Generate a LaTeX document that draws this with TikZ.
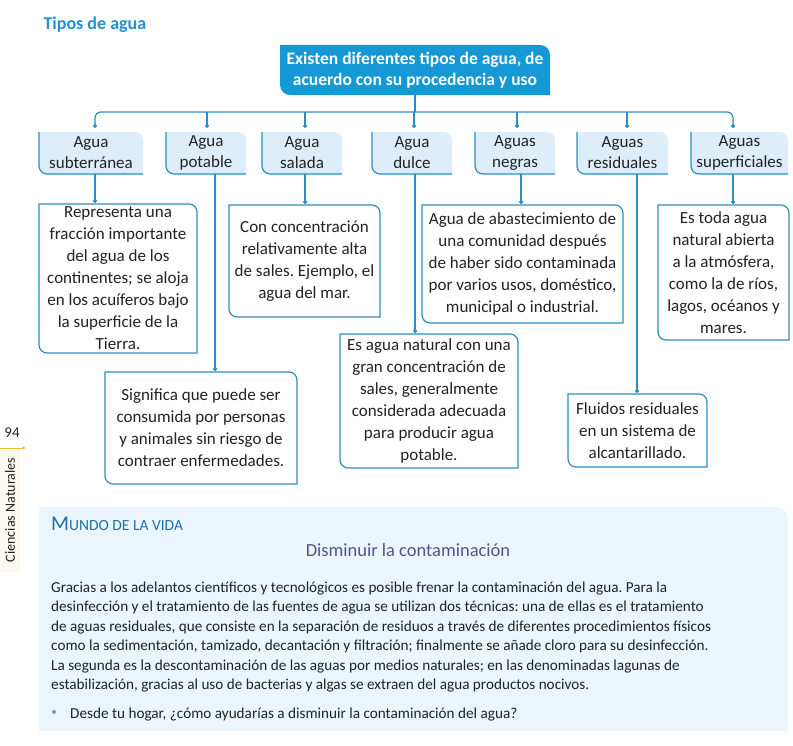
\documentclass[tikz,border=0pt]{standalone}
\usepackage{fontspec}
\setmainfont{Carlito}
\usetikzlibrary{arrows.meta,backgrounds}
\frenchspacing

\definecolor{mainblue}{RGB}{20,152,214}
\definecolor{lineblue}{RGB}{42,142,196}
\definecolor{catfill}{RGB}{221,238,250}
\definecolor{panelfill}{RGB}{234,245,253}
\definecolor{titleblue}{RGB}{36,144,208}
\definecolor{worldblue}{RGB}{30,112,172}
\definecolor{purpletext}{RGB}{90,82,142}
\definecolor{bodytext}{RGB}{35,35,35}
\definecolor{marginyellow}{RGB}{240,192,50}
\definecolor{margincream}{RGB}{253,249,240}
\definecolor{bulletgray}{RGB}{120,145,180}

% box with sharp top-left / bottom-right and round top-right / bottom-left
\newcommand\leafpath[2]{(#1.north west) -- ([xshift=-#2]#1.north east)
  arc[start angle=90,end angle=0,radius=#2] -- (#1.south east)
  -- ([xshift=#2]#1.south west) arc[start angle=270,end angle=180,radius=#2] -- cycle}

\tikzset{
  cat/.style={inner sep=0pt, outer sep=0pt, align=center, minimum height=42pt,
    font=\fontsize{17}{21}\selectfont, text=bodytext},
  desc/.style={inner sep=0pt, outer sep=0pt, align=center,
    font=\fontsize{17}{22}\selectfont, text=bodytext},
  link/.style={lineblue, line width=1.2pt},
  dot/.style={-{Circle[length=4pt]}},
}

\begin{document}
\begin{tikzpicture}[x=1pt,y=1pt]
  \useasboundingbox (0,0) rectangle (793,-746);

  % margin
  \fill[margincream] (0,-450) rectangle (20,-572);
  \node[font=\fontsize{15}{15}\selectfont, text=bodytext] (page) at (12,-433) {94};
  \draw[marginyellow, line width=1pt, -{Circle[length=3pt]}] (0,-448) -- (25,-448);
  \node[rotate=90, font=\fontsize{14}{14}\selectfont, text=bodytext] (subject) at (10,-510) {Ciencias Naturales};

  \node[anchor=west, font=\fontsize{18}{18}\selectfont\bfseries, text=titleblue] (title) at (40,-25) {Tipos de agua};

  \node[inner sep=0pt, outer sep=0pt, minimum width=270pt, minimum height=50pt, align=center,
    font=\fontsize{17.5}{21}\selectfont\bfseries, text=white] (main) at (415,-70)
    {Existen diferentes tipos de agua, de\\acuerdo con su procedencia y uso};

  % categories
  \node[cat, minimum width=104pt] (c1) at (91,-153) {Agua\\subterránea};
  \node[cat, minimum width=80pt] (c2) at (206,-153) {Agua\\potable};
  \node[cat, minimum width=80pt] (c3) at (302,-153) {Agua\\salada};
  \node[cat, minimum width=80pt] (c4) at (412,-153) {Agua\\dulce};
  \node[cat, minimum width=80pt] (c5) at (515,-153) {Aguas\\negras};
  \node[cat, minimum width=91pt] (c6) at (622.5,-153) {Aguas\\residuales};
  \node[cat, minimum width=97pt] (c7) at (739.5,-153) {Aguas\\superficiales};

  % descriptions
  \node[desc, minimum width=158pt, minimum height=149pt] (d1) at (118,-278.5)
    {Representa una\\fracción importante\\del agua de los\\continentes; se aloja\\en los acuíferos bajo\\la superficie de la\\Tierra.};
  \node[desc, minimum width=192pt, minimum height=112pt] (d2) at (201,-428)
    {Significa que puede ser\\consumida por personas\\y animales sin riesgo de\\contraer enfermedades.};
  \node[desc, minimum width=151pt, minimum height=112pt] (d3) at (304.5,-261)
    {Con concentración\\relativamente alta\\de sales. Ejemplo, el\\agua del mar.};
  \node[desc, minimum width=178pt, minimum height=134pt] (d4) at (429,-401)
    {Es agua natural con una\\gran concentración de\\sales, generalmente\\considerada adecuada\\para producir agua\\potable.};
  \node[desc, minimum width=201pt, minimum height=118pt] (d5) at (522.5,-264)
    {Agua de abastecimiento de\\una comunidad después\\de haber sido contaminada\\por varios usos, doméstico,\\municipal o industrial.};
  \node[desc, minimum width=139pt, minimum height=73pt] (d6) at (637.5,-430.5)
    {Fluidos residuales\\en un sistema de\\alcantarillado.};
  \node[desc, minimum width=131pt, minimum height=135pt] (d7) at (723.5,-272.5)
    {Es toda agua\\natural abierta\\a la atmósfera,\\como la de ríos,\\lagos, océanos y\\mares.};

  \begin{scope}[on background layer]
    \fill[mainblue] \leafpath{main}{10pt};
    \foreach \n in {c1,c2,c3,c4,c5,c6,c7} {
      \fill[catfill] \leafpath{\n}{8pt};
      \draw[link] (\n.north west) -- ([yshift=8pt]\n.south west)
        arc[start angle=180,end angle=270,radius=8pt] -- (\n.south east);
    }
    \foreach \n in {d1,d2,d3,d4,d5,d6,d7}
      \draw[link, fill=white] \leafpath{\n}{8pt};
  \end{scope}

  % tree connectors
  \coordinate (bus) at (415,-112);
  \draw[link] (main.south) -- (bus);
  \draw[link, {Circle[length=4pt]}-{Circle[length=4pt]}, rounded corners=6pt]
    ([xshift=4pt,yshift=4pt]c1.north) |- (bus) -| ([xshift=-6.5pt,yshift=4pt]c7.north);
  \foreach \n/\dx in {c2/1,c3/3,c4/2,c5/2,c6/4.5}
    \draw[link, dot] ([xshift=\dx pt]\n.north |- bus) -- ([xshift=\dx pt,yshift=4pt]\n.north);
  \foreach \n/\d/\dx in {c1/d1/4,c2/d2/9,c3/d3/3,c4/d4/3,c5/d5/6,c6/d6/14.5,c7/d7/-6.5}
    \draw[link, dot] ([xshift=\dx pt]\n.south) -- ([xshift=\dx pt,yshift=1pt]\n.south |- \d.north);

  % bottom panel
  \fill[panelfill] (39,-507) -- (776,-507) arc[start angle=90,end angle=0,radius=12pt]
    -- (788,-731) -- (39,-731) -- cycle;
  \node[anchor=base west, inner sep=0pt, text=worldblue] (world) at (51,-530)
    {\fontsize{21}{21}\selectfont M\fontsize{15.5}{15.5}\selectfont UNDO DE LA VIDA};
  \node[font=\fontsize{18.5}{18.5}\selectfont, text=purpletext] (subtitle) at (408,-550)
    {Disminuir la contaminación};
  \node[anchor=north west, inner sep=0pt, align=left, text=bodytext,
    font=\fontsize{15.2}{19.5}\selectfont] (body) at (51,-581.5)
    {Gracias a los adelantos científicos y tecnológicos es posible frenar la contaminación del agua. Para la\\
     desinfección y el tratamiento de las fuentes de agua se utilizan dos técnicas: una de ellas es el tratamiento\\
     de aguas residuales, que consiste en la separación de residuos a través de diferentes procedimientos físicos\\
     como la sedimentación, tamizado, decantación y filtración; finalmente se añade cloro para su desinfección.\\
     La segunda es la descontaminación de las aguas por medios naturales; en las denominadas lagunas de\\
     estabilización, gracias al uso de bacterias y algas se extraen del agua productos nocivos.};
  \node[text=bulletgray, font=\fontsize{11}{11}\selectfont] (bullet) at (54,-713) {•};
  \node[anchor=base west, inner sep=0pt, text=bodytext, font=\fontsize{15.2}{19.5}\selectfont] (question)
    at (70,-718) {Desde tu hogar, ¿cómo ayudarías a disminuir la contaminación del agua?};
\end{tikzpicture}
\end{document}
